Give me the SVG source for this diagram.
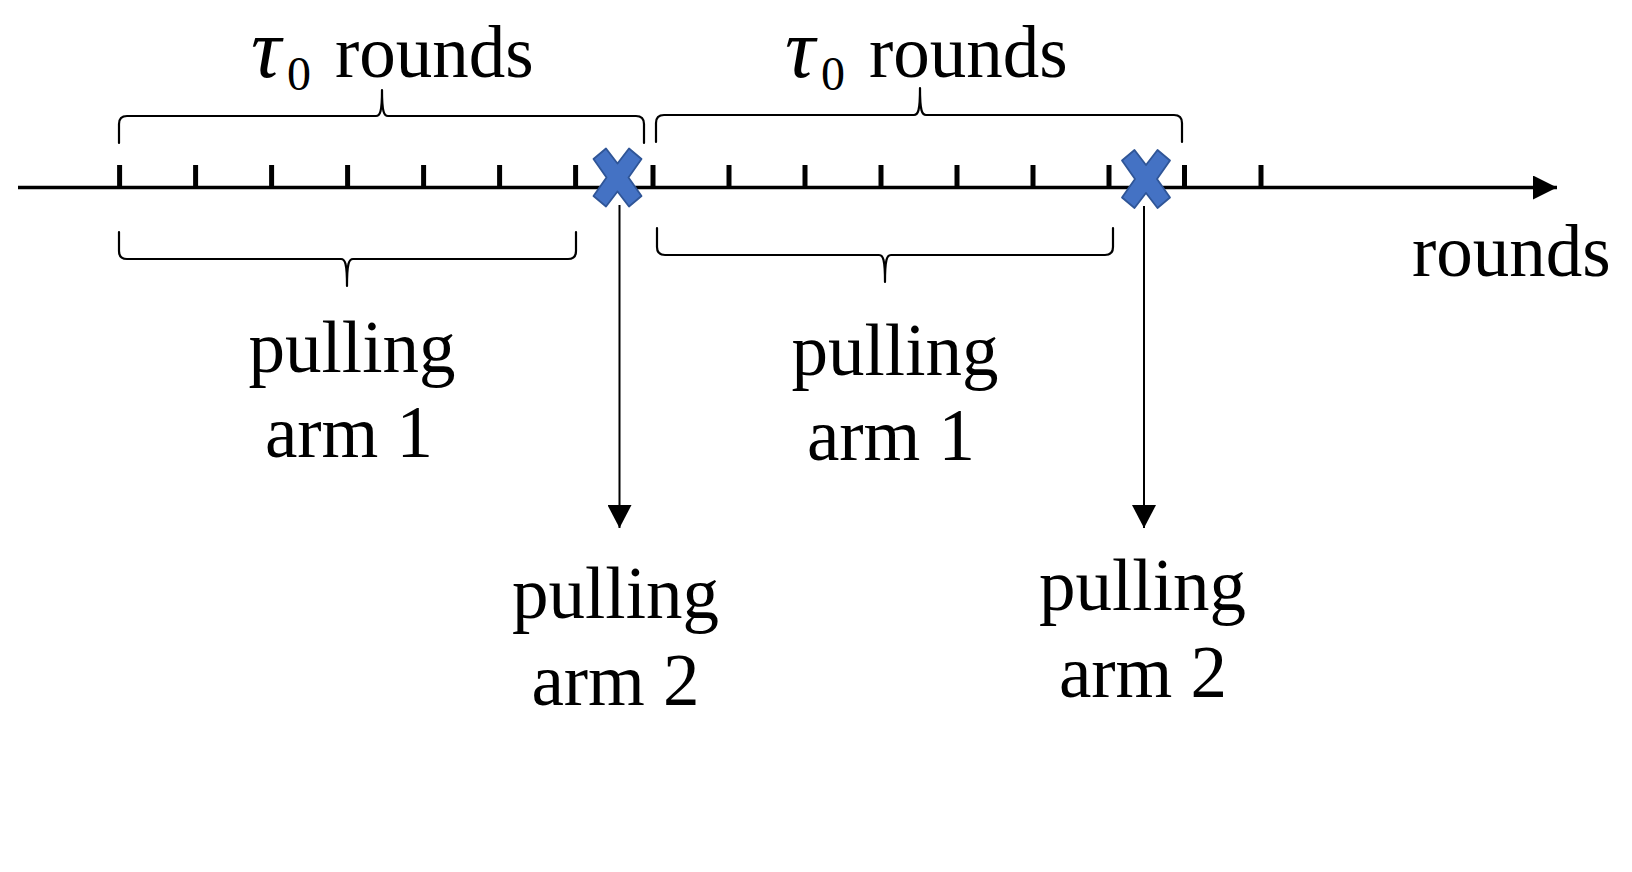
<svg xmlns="http://www.w3.org/2000/svg" width="1632" height="872" viewBox="0 0 1632 872">
<style>
  .lbl { font-family: "Liberation Serif", "Times New Roman", serif; font-size: 73px; fill: #000; }
  .mid { text-anchor: middle; }
  .axis { stroke: #000; stroke-width: 3.5; fill: none; }
  .tick { stroke: #000; stroke-width: 5; }
  .brace { stroke: #000; stroke-width: 2.2; fill: none; stroke-linecap: round; stroke-linejoin: round; }
  .conn { stroke: #000; stroke-width: 2; fill: none; }
  .cross { fill: #4472C4; stroke: #2F5597; stroke-width: 1.8; stroke-linejoin: round; }
</style>
<defs>
  <marker id="headV" markerUnits="userSpaceOnUse" viewBox="0 0 23 24" refX="23" refY="12" markerWidth="23" markerHeight="24" orient="auto">
    <path d="M0,0 L23,12 L0,24 Z" fill="#000"/>
  </marker>
  <marker id="headAxis" markerUnits="userSpaceOnUse" viewBox="0 0 24 24" refX="24" refY="12" markerWidth="24" markerHeight="24" orient="auto">
    <path d="M0,0 L24,12 L0,24 Z" fill="#000"/>
  </marker>
  <path id="crossShape" d="M-24,-18.5 L-11.5,-29 L0,-14 L11.5,-29 L24,-18.5 L11,0 L24,18.5 L11.5,29 L0,14 L-11.5,29 L-24,18.5 L-11,0 Z"/>
</defs>

<g id="axis">
  <path class="axis" d="M18,187.5 L1557,187.5" marker-end="url(#headAxis)"/>
  <g id="ticks">
    <line class="tick" x1="119.6" y1="165" x2="119.6" y2="188"/>
    <line class="tick" x1="195.6" y1="165" x2="195.6" y2="188"/>
    <line class="tick" x1="271.6" y1="165" x2="271.6" y2="188"/>
    <line class="tick" x1="347.6" y1="165" x2="347.6" y2="188"/>
    <line class="tick" x1="423.6" y1="165" x2="423.6" y2="188"/>
    <line class="tick" x1="499.6" y1="165" x2="499.6" y2="188"/>
    <line class="tick" x1="575.6" y1="165" x2="575.6" y2="188"/>
    <line class="tick" x1="653" y1="165" x2="653" y2="188"/>
    <line class="tick" x1="729" y1="165" x2="729" y2="188"/>
    <line class="tick" x1="805" y1="165" x2="805" y2="188"/>
    <line class="tick" x1="881" y1="165" x2="881" y2="188"/>
    <line class="tick" x1="957" y1="165" x2="957" y2="188"/>
    <line class="tick" x1="1033" y1="165" x2="1033" y2="188"/>
    <line class="tick" x1="1109" y1="165" x2="1109" y2="188"/>
    <line class="tick" x1="1184.5" y1="165" x2="1184.5" y2="188"/>
    <line class="tick" x1="1261" y1="165" x2="1261" y2="188"/>
  </g>
  <text id="axis-label" class="lbl" x="1412" y="276">rounds</text>
</g>

<g id="braces">
  <path id="brace-top-1" class="brace" d="M119,143 L119,124 Q119,116 127,116 L376,116 C380,116 382,112 382,90 C382,112 384,116 388,116 L636,116 Q644,116 644,124 L644,143"/>
  <path id="brace-top-2" class="brace" d="M656,142 L656,123 Q656,115 664,115 L914,115 C918,115 920,111 920,88 C920,111 922,115 926,115 L1174,115 Q1182,115 1182,123 L1182,142"/>
  <path id="brace-bot-1" class="brace" d="M119,232 L119,251 Q119,259 127,259 L341,259 C345,259 347,263 347,286 C347,263 349,259 353,259 L568,259 Q576,259 576,251 L576,232"/>
  <path id="brace-bot-2" class="brace" d="M657,228 L657,247 Q657,255 665,255 L879,255 C883,255 885,259 885,282 C885,259 887,255 891,255 L1105,255 Q1113,255 1113,247 L1113,228"/>
</g>

<g id="connectors">
  <path class="conn" d="M619.5,205 L619.5,528" marker-end="url(#headV)"/>
  <path class="conn" d="M1144,206 L1144,528" marker-end="url(#headV)"/>
</g>

<g id="switch-1">
  <use href="#crossShape" class="cross" transform="translate(617.5,177.5)"/>
</g>
<g id="switch-2">
  <use href="#crossShape" class="cross" transform="translate(1146,179)"/>
</g>

<g id="label-tau-1">
  <text class="lbl" y="77"><tspan x="251" font-style="italic" font-size="84">τ</tspan><tspan x="287" y="90" font-size="48">0</tspan><tspan x="335" y="77">rounds</tspan></text>
</g>
<g id="label-tau-2">
  <text class="lbl" y="77"><tspan x="785" font-style="italic" font-size="84">τ</tspan><tspan x="821" y="90" font-size="48">0</tspan><tspan x="869" y="77">rounds</tspan></text>
</g>

<g id="label-arm1-a">
  <text class="lbl mid" x="352" y="372">pulling</text>
  <text class="lbl mid" x="349" y="457">arm 1</text>
</g>
<g id="label-arm1-b">
  <text class="lbl mid" x="895" y="375">pulling</text>
  <text class="lbl mid" x="891" y="460">arm 1</text>
</g>
<g id="label-arm2-a">
  <text class="lbl mid" x="615.5" y="618">pulling</text>
  <text class="lbl mid" x="615.5" y="705">arm 2</text>
</g>
<g id="label-arm2-b">
  <text class="lbl mid" x="1142.5" y="610">pulling</text>
  <text class="lbl mid" x="1143" y="697">arm 2</text>
</g>
</svg>
